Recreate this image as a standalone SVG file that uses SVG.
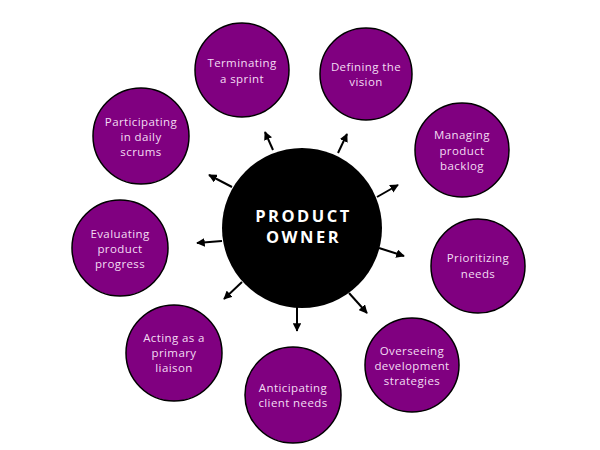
<svg xmlns="http://www.w3.org/2000/svg" width="600" height="450" viewBox="0 0 600 450">
<defs>
<marker id="ah" viewBox="0 0 10 10" refX="9" refY="5" markerWidth="4.3" markerHeight="4.3" orient="auto" markerUnits="strokeWidth">
<path d="M0,0 L10,5 L0,10 Z" fill="#000"/>
</marker>
<style>
.sat{fill:#800080;stroke:#000;stroke-width:1.5}
.st{font-family:"Open Sans","Liberation Sans",sans-serif;font-size:11.5px;fill:#f3dcf3;text-anchor:middle;letter-spacing:0.4px}
.ct{font-family:"Open Sans","Liberation Sans",sans-serif;font-size:16.5px;font-weight:bold;fill:#fff;text-anchor:middle;letter-spacing:2.5px}
.ar{stroke:#000;stroke-width:2;fill:none;marker-end:url(#ah)}
</style>
</defs>
<rect width="600" height="450" fill="#fff"/>
<g id="connectors">
<line class="ar" x1="273" y1="150" x2="265" y2="132"/>
<line class="ar" x1="338" y1="153" x2="347" y2="134"/>
<line class="ar" x1="232" y1="187" x2="209" y2="175"/>
<line class="ar" x1="377" y1="197" x2="398" y2="185"/>
<line class="ar" x1="222" y1="241" x2="197" y2="243"/>
<line class="ar" x1="379" y1="248" x2="404" y2="256"/>
<line class="ar" x1="242" y1="282" x2="224" y2="299"/>
<line class="ar" x1="349" y1="293" x2="367" y2="313"/>
<line class="ar" x1="297" y1="307" x2="297" y2="331"/>
</g>
<g id="center">
<circle cx="302" cy="228" r="80" fill="#000"/>
<text class="ct" x="303.5" y="222">PRODUCT</text>
<text class="ct" x="303.5" y="243">OWNER</text>
</g>
<g id="terminating">
<circle class="sat" cx="242" cy="70" r="47"/>
<text class="st" x="242" y="67">Terminating</text>
<text class="st" x="242" y="83">a sprint</text>
</g>
<g id="defining">
<circle class="sat" cx="366" cy="74" r="46"/>
<text class="st" x="366" y="71">Defining the</text>
<text class="st" x="366" y="86">vision</text>
</g>
<g id="managing">
<circle class="sat" cx="462" cy="150" r="47"/>
<text class="st" x="462" y="139">Managing</text>
<text class="st" x="462" y="155">product</text>
<text class="st" x="462" y="170">backlog</text>
</g>
<g id="prioritizing">
<circle class="sat" cx="478" cy="266" r="47"/>
<text class="st" x="478" y="262">Prioritizing</text>
<text class="st" x="478" y="278">needs</text>
</g>
<g id="overseeing">
<circle class="sat" cx="412" cy="365" r="47"/>
<text class="st" x="412" y="355">Overseeing</text>
<text class="st" x="412" y="370">development</text>
<text class="st" x="412" y="385">strategies</text>
</g>
<g id="anticipating">
<circle class="sat" cx="293" cy="395" r="48"/>
<text class="st" x="293" y="392">Anticipating</text>
<text class="st" x="293" y="407">client needs</text>
</g>
<g id="acting">
<circle class="sat" cx="174" cy="353" r="48"/>
<text class="st" x="174" y="342">Acting as a</text>
<text class="st" x="174" y="357">primary</text>
<text class="st" x="174" y="372">liaison</text>
</g>
<g id="evaluating">
<circle class="sat" cx="120" cy="248" r="48"/>
<text class="st" x="120" y="238">Evaluating</text>
<text class="st" x="120" y="253">product</text>
<text class="st" x="120" y="268">progress</text>
</g>
<g id="participating">
<circle class="sat" cx="141" cy="136" r="48"/>
<text class="st" x="141" y="126">Participating</text>
<text class="st" x="141" y="141">in daily</text>
<text class="st" x="141" y="156">scrums</text>
</g>
</svg>
